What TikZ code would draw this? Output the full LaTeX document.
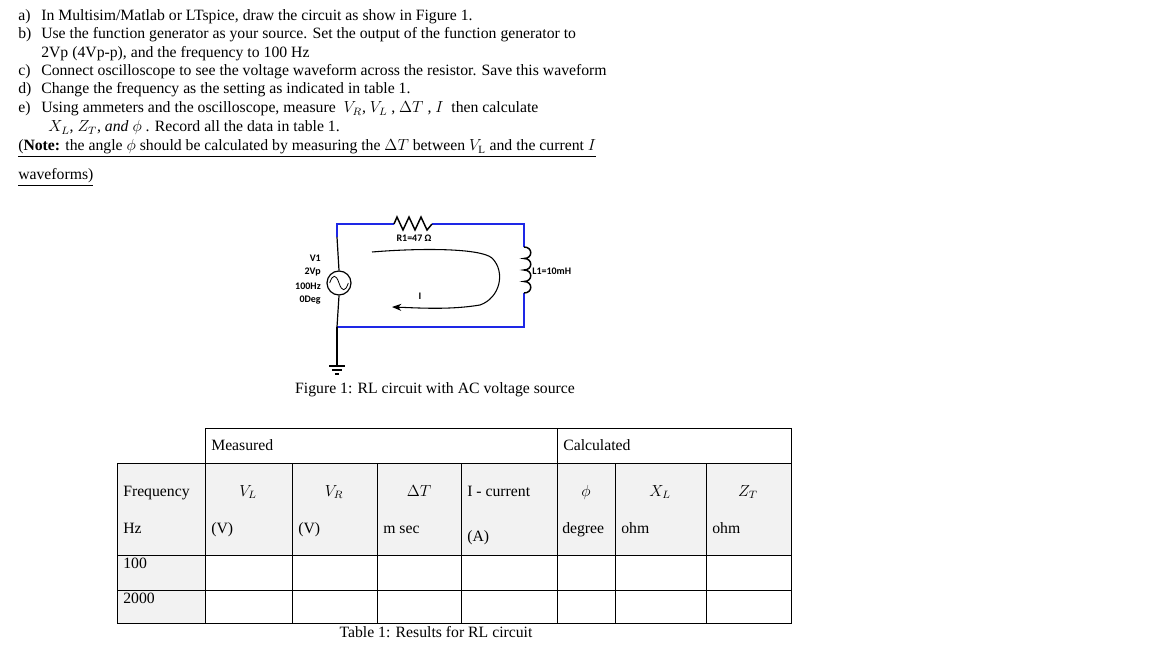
\documentclass[tikz,border=0pt]{standalone}
\usepackage{fontspec}
\setmainfont{Liberation Serif}
\setsansfont{Carlito}
\usetikzlibrary{arrows.meta}
\definecolor{wire}{RGB}{30,40,230}
\definecolor{cellgray}{RGB}{242,242,242}
\begin{document}
\begin{tikzpicture}[x=0.75pt,y=-0.75pt,
  txt/.style={anchor=base west,inner sep=0,font=\fontsize{11.8}{13}\selectfont},
  lbl/.style={inner sep=0,font=\sffamily\bfseries\fontsize{7.5}{9}\selectfont},
  bw/.style={wire,line width=1.3pt},
  kw/.style={black,line width=1.1pt},
  grid/.style={black,line width=0.6pt}]
\useasboundingbox (0,0) rectangle (1152,648);
% instructions
\node[txt] (la) at (18,21) {a)};\node[txt] (ta) at (41,21) {In Multisim/Matlab or LTspice, draw the circuit as show in Figure 1.};
\node[txt] (lb) at (18,39) {b)};\node[txt] (tb) at (41,39) {Use the function generator as your source. Set the output of the function generator to};
\node[txt] (tb2) at (41,58) {2Vp (4Vp-p), and the frequency to 100 Hz};
\node[txt] (lc) at (18,76) {c)};\node[txt] (tc) at (41,76) {Connect oscilloscope to see the voltage waveform across the resistor. Save this waveform};
\node[txt] (ld) at (18,94) {d)};\node[txt] (td) at (41,94) {Change the frequency as the setting as indicated in table 1.};
\node[txt] (le) at (18,113) {e)};\node[txt] (te) at (41,113) {Using ammeters and the oscilloscope, measure \ $V_R$, $V_L$ , $\Delta T$ , $I$ \ then calculate};
\node[txt] (te2) at (48,132) {$X_L$, $Z_T$, \emph{and} $\phi$ . Record all the data in table 1.};
\node[txt] (note) at (18,151) {\underline{(\textbf{Note:} the angle $\phi$ should be calculated by measuring the $\Delta T$ between $V_{\mathrm{L}}$ and the current $I$}};
\node[txt] (note2) at (18,180) {\underline{waveforms)}};
% circuit
\coordinate (tl) at (337,224); \coordinate (tr) at (524,224);
\coordinate (bl) at (337,327); \coordinate (br) at (524,327);
\coordinate (r1) at (394,224); \coordinate (r2) at (432,224);
\coordinate (l1) at (524,247); \coordinate (l2) at (524,293);
\coordinate (lb0) at (337,237);
\node[draw,circle,minimum size=18pt,inner sep=0,line width=0.9pt] (src) at (339,283) {};
\draw[bw] (lb0) -- (tl) -- (r1);
\draw[bw] (r2) -- (tr) -- (l1);
\draw[bw] (l2) -- (br) -- (bl);
\draw[kw] (r1) -- ++(3,-7) -- ++(6,13) -- ++(6,-13) -- ++(6,13) -- ++(6,-13) -- ++(6,13) -- (r2);
\draw[kw] (l1) .. controls (533,247) and (533,258.5) .. (524,258.5)
  .. controls (533,258.5) and (533,270) .. (524,270)
  .. controls (533,270) and (533,281.5) .. (524,281.5)
  .. controls (533,281.5) and (533,293) .. (l2);
\draw[kw,line width=0.9pt] (lb0) -- (src.north);
\draw[kw,line width=0.9pt] (src.south) -- (bl);
\draw[kw,line width=0.9pt] (bl) -- (337,366) coordinate (g);
\draw[kw,line width=0.9pt] (329,366) -- (345,366) (332,370) -- (342,370) (335,374) -- (339,374);
\draw[line width=0.6pt] ([xshift=-7]src.center) .. controls ++(3,-9) and ++(-3,-9) .. (src.center) .. controls ++(3,9) and ++(-3,9) .. ([xshift=7]src.center);
\draw[kw,line width=0.8pt,-{Stealth[length=7pt]}] (372,252) .. controls (420,248) and (480,248) .. (492,258) .. controls (506,272) and (500,298) .. (480,305) .. controls (450,310) and (420,308) .. (392,307);
\node[lbl] (rl) at (414,238) {R1=47 Ω};
\node[lbl,anchor=west] (ll) at (532,271) {L1=10mH};
\node[lbl,anchor=east] (v1) at (321,258) {V1};
\node[lbl,anchor=east] (v2) at (321,272) {2Vp};
\node[lbl,anchor=east] (v3) at (321,286) {100Hz};
\node[lbl,anchor=east] (v4) at (321,300) {0Deg};
\node[lbl] (il) at (420,296) {I};
\node[txt,anchor=base] (fig) at (435,393) {Figure 1: RL circuit with AC voltage source};
% table
\fill[cellgray] (117,463) rectangle (791,555);
\fill[cellgray] (117,555) rectangle (205,623);
\draw[grid] (205,428) -- (791,428) -- (791,623) -- (117,623) -- (117,463) -- (205,463) -- (205,428);
\draw[grid] (205,463) -- (791,463) (117,555) -- (791,555) (117,590) -- (791,590);
\draw[grid] (557,428) -- (557,623);
\foreach \x in {205,292,377,461,615,706} \draw[grid] (\x,463) -- (\x,623);
\node[txt] (m) at (211,450) {Measured};
\node[txt] (c) at (563,450) {Calculated};
\node[txt] (h1) at (123,496) {Frequency};
\node[txt] (h2) at (123,533) {Hz};
\node[txt,anchor=base] at (248,496) {$V_L$};
\node[txt,anchor=base] at (334,496) {$V_R$};
\node[txt,anchor=base] at (419,496) {$\Delta T$};
\node[txt] at (467,496) {I - current};
\node[txt,anchor=base] at (586,496) {$\phi$};
\node[txt,anchor=base] at (660,496) {$X_L$};
\node[txt,anchor=base] at (748,496) {$Z_T$};
\node[txt] at (211,533) {(V)};
\node[txt] at (298,533) {(V)};
\node[txt] at (383,533) {m sec};
\node[txt] at (467,541) {(A)};
\node[txt] at (562,533) {degree};
\node[txt] at (621,533) {ohm};
\node[txt] at (712,533) {ohm};
\node[txt] at (123,568) {100};
\node[txt] at (123,603) {2000};
\node[txt,anchor=base] (cap) at (436,637) {Table 1: Results for RL circuit};
\end{tikzpicture}
\end{document}
